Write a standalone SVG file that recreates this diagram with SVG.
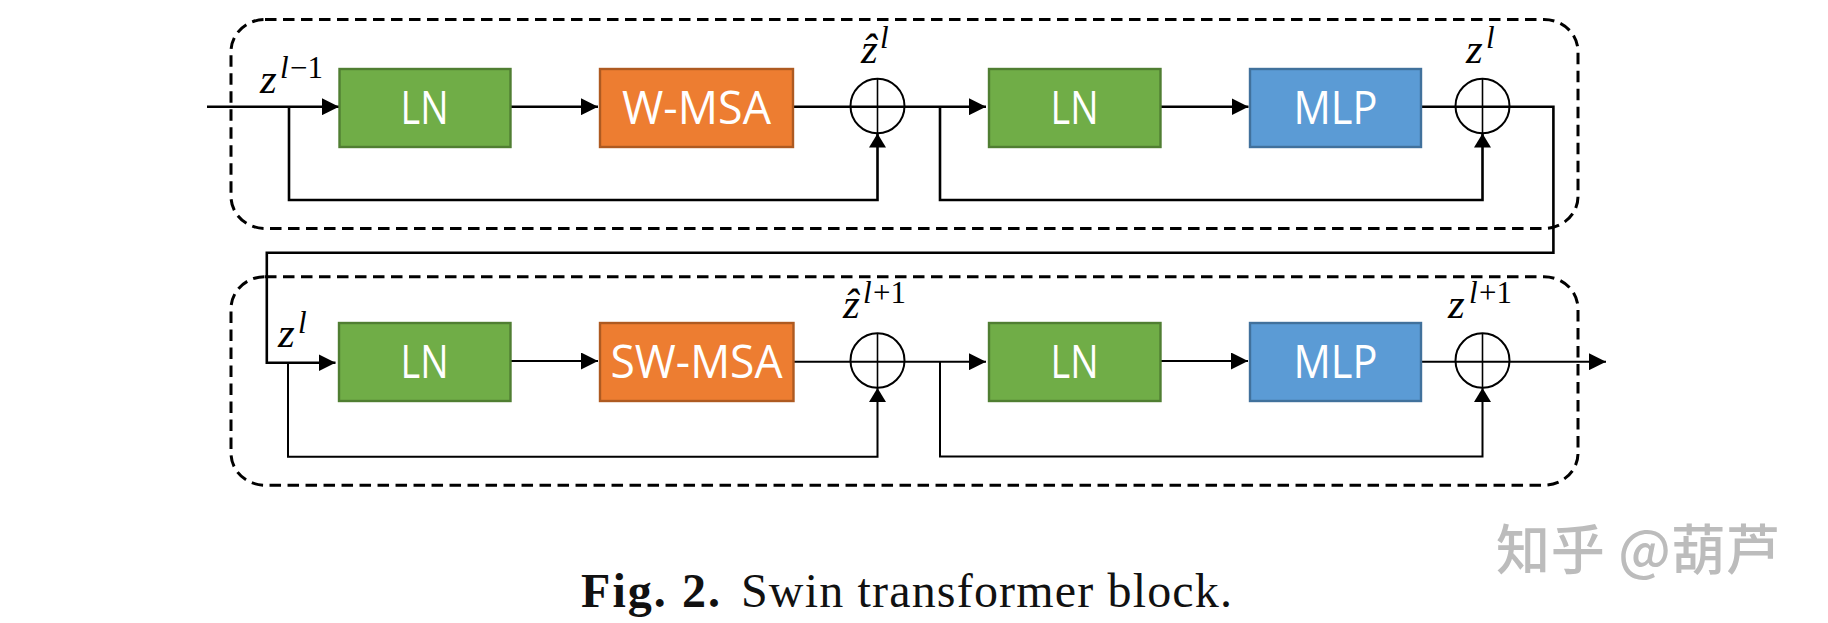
<svg xmlns="http://www.w3.org/2000/svg" width="1828" height="623" viewBox="0 0 1828 623">
<style>
.frame{fill:none;stroke:#000;stroke-width:3;stroke-dasharray:11.5 6.5}
.c{fill:none;stroke:#000;stroke-width:2}
.t{stroke-width:2.6}
.a{marker-end:url(#arrow)}
.u{marker-end:url(#up)}
.box{stroke-width:2.4}
.green{fill:#70AD47;stroke:#507E32}
.orange{fill:#ED7D31;stroke:#AE5A21}
.blue{fill:#5B9BD5;stroke:#41719C}
.lab{font-family:"Open Sans","Liberation Sans",sans-serif;font-size:46px;fill:#fff;text-anchor:middle}
.sum line{fill:none;stroke:#000;stroke-width:1.6}
.sum ellipse{fill:none;stroke:#000;stroke-width:2}
.m{font-family:"Liberation Serif",serif;fill:#000}
.mi{font-size:43px;font-style:italic}
.mu{font-size:31px}
.cap{font-family:"Liberation Serif",serif;font-size:48px;fill:#111}
.wm{font-family:"Noto Sans CJK SC",sans-serif;font-size:54px;font-weight:500;fill:#bcbcbc}
</style>
<defs>
<marker id="arrow" markerUnits="userSpaceOnUse" markerWidth="17" markerHeight="17" viewBox="0 0 17 17" refX="17" refY="8.5" orient="auto"><path d="M0 0L17 8.5L0 17Z" fill="#000"/></marker>
<marker id="up" markerUnits="userSpaceOnUse" markerWidth="14" markerHeight="17" viewBox="0 0 14 17" refX="14" refY="8.5" orient="auto"><path d="M0 0L14 8.5L0 17Z" fill="#000"/></marker>
</defs>
<rect width="1828" height="623" fill="#fff"/>
<g id="frames">
<rect id="frame-top" class="frame" x="231" y="19.5" width="1347" height="209" rx="34" ry="32"/>
<rect id="frame-bottom" class="frame" x="231" y="276.7" width="1347" height="208.5" rx="34" ry="32"/>
</g>
<g id="connectors">
<path class="c t a" d="M207 106.7H339"/>
<path class="c t a" d="M510 106.7H598"/>
<path class="c t a" d="M793 106.7H986"/>
<path class="c t a" d="M1161 106.7H1248.5"/>
<path class="c t u" d="M289 106.7V200H877.5V133.5"/>
<path class="c t u" d="M940 106.7V200H1482.5V133.5"/>
<path class="c t a" d="M1421 106.7H1553.4V252.7H266.8V362.7H335.5"/>
<path class="c a" d="M510.5 361H598"/>
<path class="c a" d="M793.6 361.7H986"/>
<path class="c a" d="M1160.6 361H1248"/>
<path class="c a" d="M1421 361.7H1606"/>
<path class="c u" d="M288 362.7V456.7H877.5V388"/>
<path class="c u" d="M940 361.7V456.5H1482.5V388"/>
</g>
<g id="ln1"><rect class="box green" x="339.5" y="69" width="171" height="78"/><text class="lab" x="424.5" y="123.5" textLength="48" lengthAdjust="spacingAndGlyphs">LN</text></g>
<g id="wmsa"><rect class="box orange" x="600" y="69" width="193" height="78"/><text class="lab" x="696.5" y="123.5" textLength="149" lengthAdjust="spacingAndGlyphs">W-MSA</text></g>
<g id="sum1" class="sum"><ellipse cx="877.5" cy="106" rx="27" ry="27.3"/><line x1="877.5" y1="78.7" x2="877.5" y2="133"/></g>
<g id="ln2"><rect class="box green" x="989" y="69" width="171.5" height="78"/><text class="lab" x="1074.5" y="123.5" textLength="48" lengthAdjust="spacingAndGlyphs">LN</text></g>
<g id="mlp1"><rect class="box blue" x="1250" y="69" width="171" height="78"/><text class="lab" x="1335.5" y="123.5" textLength="84" lengthAdjust="spacingAndGlyphs">MLP</text></g>
<g id="sum2" class="sum"><ellipse cx="1482.5" cy="106" rx="27" ry="27.3"/><line x1="1482.5" y1="78.7" x2="1482.5" y2="133"/></g>
<g id="ln3"><rect class="box green" x="339" y="323" width="171.5" height="78"/><text class="lab" x="424.5" y="378" textLength="48" lengthAdjust="spacingAndGlyphs">LN</text></g>
<g id="swmsa"><rect class="box orange" x="600" y="323" width="193.5" height="78"/><text class="lab" x="696.5" y="378" textLength="172" lengthAdjust="spacingAndGlyphs">SW-MSA</text></g>
<g id="sum3" class="sum"><ellipse cx="877.5" cy="360.5" rx="27" ry="27.3"/><line x1="877.5" y1="333.3" x2="877.5" y2="388"/></g>
<g id="ln4"><rect class="box green" x="989" y="323" width="171.5" height="78"/><text class="lab" x="1074.5" y="378" textLength="48" lengthAdjust="spacingAndGlyphs">LN</text></g>
<g id="mlp2"><rect class="box blue" x="1250" y="323" width="171" height="78"/><text class="lab" x="1335.5" y="378" textLength="84" lengthAdjust="spacingAndGlyphs">MLP</text></g>
<g id="sum4" class="sum"><ellipse cx="1482.5" cy="360.5" rx="27" ry="27.3"/><line x1="1482.5" y1="333.3" x2="1482.5" y2="388"/></g>
<g id="math">
<text class="m"><tspan class="mi" x="260" y="92.7">z</tspan><tspan class="mu" x="280" y="78" font-style="italic">l</tspan><tspan class="mu" x="290" y="78">−1</tspan></text>
<text class="m"><tspan class="mi" x="861" y="62.7">ẑ</tspan><tspan class="mu" x="880" y="48.3" font-style="italic">l</tspan></text>
<text class="m"><tspan class="mi" x="1466" y="62.7">z</tspan><tspan class="mu" x="1486" y="48.3" font-style="italic">l</tspan></text>
<text class="m"><tspan class="mi" x="278" y="346.7">z</tspan><tspan class="mu" x="298" y="333" font-style="italic">l</tspan></text>
<text class="m"><tspan class="mi" x="843" y="318">ẑ</tspan><tspan class="mu" x="863" y="302.7" font-style="italic">l</tspan><tspan class="mu" x="873" y="302.7">+1</tspan></text>
<text class="m"><tspan class="mi" x="1448" y="318">z</tspan><tspan class="mu" x="1469" y="302.7" font-style="italic">l</tspan><tspan class="mu" x="1479" y="302.7">+1</tspan></text>
</g>
<g id="caption">
<text class="cap" x="581" y="607" font-weight="700" textLength="139" lengthAdjust="spacing">Fig. 2.</text>
<text class="cap" x="741" y="607" textLength="491" lengthAdjust="spacing">Swin transformer block.</text>
</g>
<text class="wm" x="1496" y="570" textLength="284" lengthAdjust="spacing">知乎 @葫芦</text>
</svg>
